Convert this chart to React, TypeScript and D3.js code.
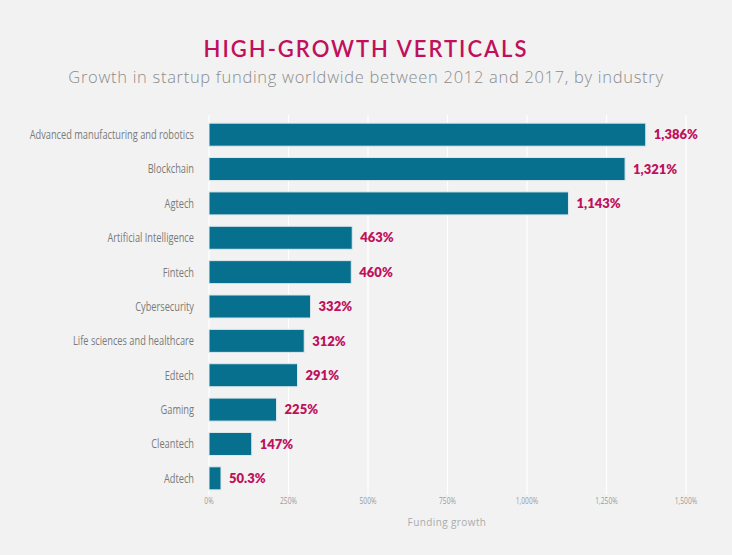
import React from 'react';
import * as d3 from 'd3';

const categories = [
  'Advanced manufacturing and robotics',
  'Blockchain',
  'Agtech',
  'Artificial Intelligence',
  'Fintech',
  'Cybersecurity',
  'Life sciences and healthcare',
  'Edtech',
  'Gaming',
  'Cleantech',
  'Adtech',
];
const growth = [1386, 1321, 1143, 463, 460, 332, 312, 291, 225, 147, 50.3];
const valueLabels = ['1,386%', '1,321%', '1,143%', '463%', '460%', '332%', '312%', '291%', '225%', '147%', '50.3%'];
const ticks = [0, 250, 500, 750, 1000, 1250, 1500];

const width = 732;
const height = 555;
const margin = { top: 118, right: 46, bottom: 64, left: 209 };

// no condensed font installed, so squeeze Open Sans horizontally
const narrow = '"Open Sans", sans-serif';
const squeeze = 0.74;
const sans = 'Lato, "Open Sans", "Noto Sans", sans-serif';

const App: React.FC = () => {
  const x = d3.scaleLinear().domain([0, 1500]).range([margin.left, 686]);
  const y = d3
    .scaleBand<string>()
    .domain(categories)
    .range([margin.top, 495])
    .paddingInner(0.33)
    .paddingOuter(0.15);

  const fmt = (d: number) => d3.format(',')(d) + '%';

  return (
    <div style={{ position: 'absolute', left: 0, top: 0 }}>
      <svg width={width} height={height} style={{ display: 'block' }}>
        <rect width={width} height={height} fill="#f2f2f2" />
        <text x={366} y={57} textAnchor="middle" fill="#c0105c" fontFamily={sans} fontSize={22} fontWeight={600} letterSpacing={2}>
          HIGH-GROWTH VERTICALS
        </text>
        <text x={366} y={83} textAnchor="middle" fill="#8c8c8c" fontFamily='"Open Sans", sans-serif' fontSize={16.5} fontWeight={300} letterSpacing={0.7}>
          Growth in startup funding worldwide between 2012 and 2017, by industry
        </text>

        {/* gridlines */}
        {ticks.map(t => (
          <line key={t} x1={x(t)} x2={x(t)} y1={115} y2={495} stroke="#ffffff" strokeWidth={1.2} />
        ))}

        {/* bars */}
        {categories.map((c, i) => {
          const cy = (y(c) as number) + y.bandwidth() / 2;
          return (
            <g key={c}>
              <rect
                x={x(0)}
                y={y(c)}
                width={x(growth[i]) - x(0) - 4}
                height={y.bandwidth()}
                fill="#08708f"
                stroke="#dfe9ed"
                strokeWidth={1}
              />
              <text
                transform={`translate(194,${cy}) scale(${squeeze},1)`}
                dy="0.35em"
                textAnchor="end"
                fill="#7a7a7a"
                fontFamily={narrow}
                fontSize={12.5}
              >
                {c}
              </text>
              <text x={x(growth[i]) + 4} y={cy} dy="0.36em" fill="#c0105c" fontFamily={sans} fontSize={13} fontWeight={800}>
                {valueLabels[i]}
              </text>
            </g>
          );
        })}

        {/* x axis tick labels */}
        {ticks.map(t => (
          <text
            key={t}
            transform={`translate(${x(t)},504) scale(${squeeze},1)`}
            textAnchor="middle"
            fill="#9a9a9a"
            fontFamily={narrow}
            fontSize={9}
          >
            {fmt(t)}
          </text>
        ))}
        <text x={447} y={526} textAnchor="middle" fill="#ababab" fontFamily='"Open Sans", sans-serif' fontSize={10} fontWeight={400} letterSpacing={0.4}>
          Funding growth
        </text>
      </svg>
    </div>
  );
};

export default App;
